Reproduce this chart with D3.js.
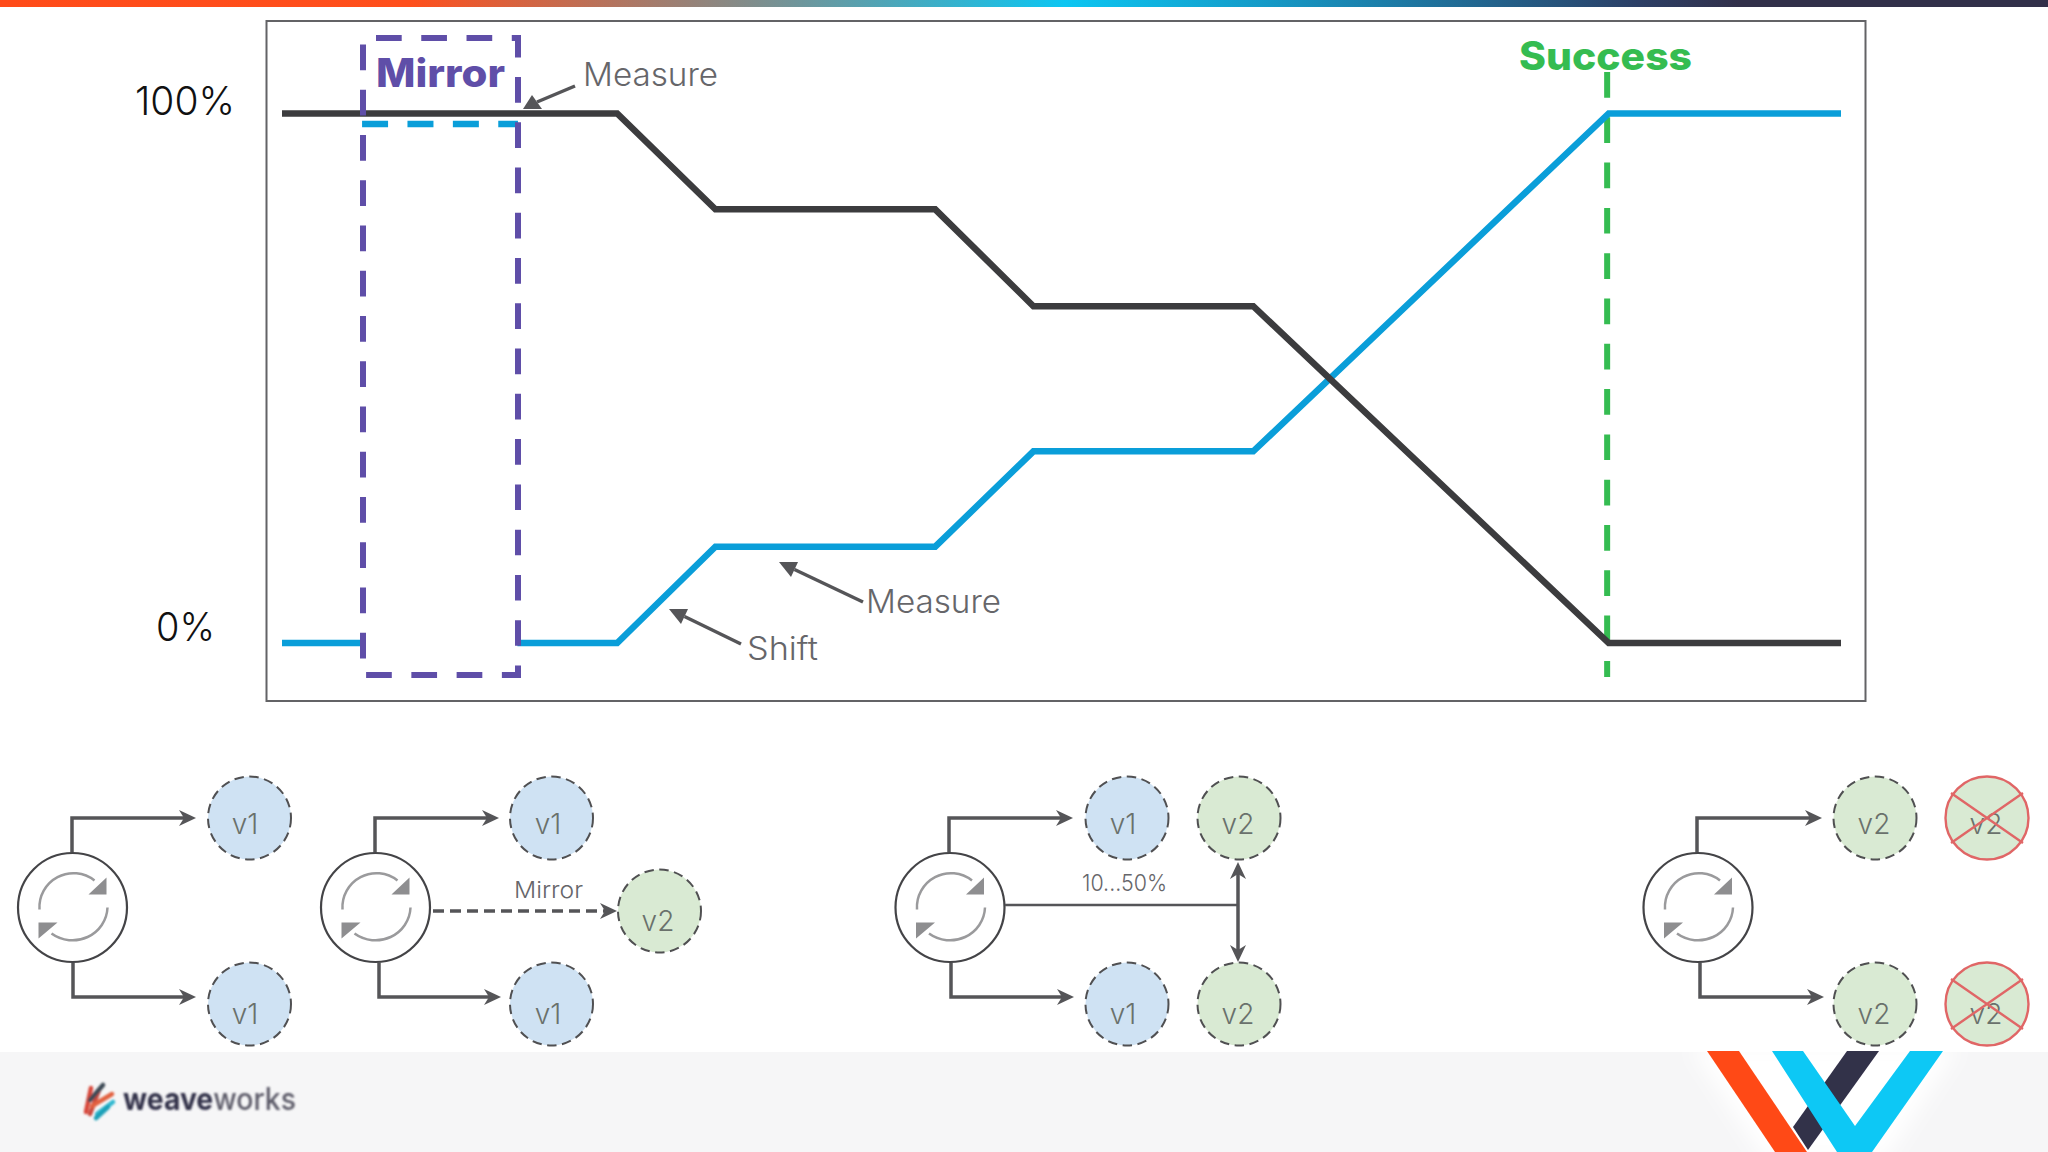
<!DOCTYPE html>
<html>
<head>
<meta charset="utf-8">
<script src="https://cdnjs.cloudflare.com/ajax/libs/d3/7.8.5/d3.min.js"></script>
<style>
html,body{margin:0;padding:0;background:#fff;overflow:hidden}
svg{display:block}
text{font-family:Inter,"Open Sans",sans-serif}
</style>
</head>
<body>
<script>
// ---- chart data (traffic share in percent along a rollout timeline) ----
const timeline      = [0, 5.1, 10, 15.1, 21.5, 27.8, 41.9, 48.2, 62.3, 85.1, 100];
const primaryShare  = [100, 100, 100, 100, 100, 81.9, 81.9, 63.6, 63.6, 0, 0];
const canaryShare   = [0, 0, null, 0, 0, 18.2, 18.2, 36.2, 36.2, 100, 100];
const mirrorRange   = [5.2, 15.2];
const mirrorShare   = [98, 98];
const successAt     = 85;
const axisTicks     = [0, 100];
const axisLabels    = ["0%", "100%"];

// ---- colours ----
const cPrimary="#3c3c3e", cCanary="#0a9ed9", cMirror="#5f4ea8", cSuccess="#35bc51",
      cGrey="#555558", cText="#66666a", cV1="#cfe2f3", cV2="#d9ead3", cRed="#e06666";

const W=2048,H=1152;
const svg=d3.select("body").append("svg").attr("width",W).attr("height",H).attr("viewBox",[0,0,W,H]);
const defs=svg.append("defs");

const x=d3.scaleLinear().domain([0,100]).range([282,1841]);
const y=d3.scaleLinear().domain([0,100]).range([643,113.5]);

// top gradient bar
const g=defs.append("linearGradient").attr("id","bar");
[[0,"#ff4b19"],[.2,"#ff4f1c"],[.52,"#0cc6f2"],[.62,"#1599c6"],[.8,"#2c3f66"],[.85,"#32304a"],[1,"#32304a"]]
  .forEach(d=>g.append("stop").attr("offset",d[0]).attr("stop-color",d[1]));
defs.append("filter").attr("id","soft").attr("x","-20%").attr("y","-20%").attr("width","140%").attr("height","140%")
  .append("feGaussianBlur").attr("stdDeviation",0.6);
defs.append("filter").attr("id","soft2").attr("x","-20%").attr("y","-20%").attr("width","140%").attr("height","140%")
  .append("feGaussianBlur").attr("stdDeviation",1);
defs.append("filter").attr("id","halo").attr("x","-20%").attr("y","-20%").attr("width","140%").attr("height","140%")
  .append("feGaussianBlur").attr("stdDeviation",10);
svg.append("rect").attr("width",W).attr("height",7).attr("fill","url(#bar)");

// footer
svg.append("rect").attr("y",1052).attr("width",W).attr("height",100).attr("fill","#f6f6f7");
const poly=(pts,fill,parent=svg)=>parent.append("polygon").attr("points",pts.map(p=>p.join(",")).join(" ")).attr("fill",fill);
poly([[1690,1046],[1960,1046],[1885,1160],[1765,1160]],"#fff").attr("filter","url(#halo)");

// frame
svg.append("rect").attr("x",266.5).attr("y",21).attr("width",1599).attr("height",680)
  .attr("fill","#fff").attr("stroke","#636366").attr("stroke-width",2);

// y axis tick labels
const axis=d3.axisLeft(y).tickValues(axisTicks).tickSize(0).tickFormat((d,i)=>axisLabels[i]);
const ax=svg.append("g").attr("transform","translate(235,0)").call(axis);
ax.select(".domain").remove();
ax.selectAll("text").attr("dy",null).attr("x",0).attr("dominant-baseline","auto")
  .style("font-family","Inter").style("font-size","39px").style("font-weight",300).attr("fill","#111")
  .each(function(d){
    const s=d3.select(this);
    if(d===100){s.attr("dy",0.5).attr("textLength",100).attr("lengthAdjust","spacingAndGlyphs");}
    else{s.attr("dy",-3).attr("x",-20).attr("textLength",59).attr("lengthAdjust","spacingAndGlyphs");}
  });

const line=d3.line().defined(d=>d[1]!==null).x(d=>x(d[0])).y(d=>y(d[1]));
const series=vals=>timeline.map((t,i)=>[t,vals[i]]);

// success marker
svg.append("line").attr("x1",x(successAt)).attr("x2",x(successAt)).attr("y1",72).attr("y2",677)
  .attr("stroke",cSuccess).attr("stroke-width",6).attr("stroke-dasharray","25.7 19.6");

// series
svg.append("path").attr("d",line(series(canaryShare))).attr("fill","none").attr("stroke",cCanary).attr("stroke-width",6.5);
svg.append("path").attr("d",line(series(primaryShare))).attr("fill","none").attr("stroke",cPrimary).attr("stroke-width",6.5);
svg.append("path").attr("d",line(mirrorRange.map((t,i)=>[t,mirrorShare[i]]))).attr("fill","none").attr("stroke",cCanary)
  .attr("stroke-width",6.5).attr("stroke-dasharray","26 19.4").attr("transform","translate(-1,0)");

// mirror box: clockwise dashed path
svg.append("path").attr("d","M376,38H518V675H363V38H376").attr("fill","none").attr("stroke",cMirror)
  .attr("stroke-width",6).attr("stroke-dasharray","25.7 19.56");

// labels
function label(t,xs,base,size,weight,color,len,parent=svg){
  return parent.append("text").attr("x",xs).attr("y",base).text(t).attr("fill",color)
    .style("font-size",size+"px").style("font-weight",weight)
    .attr("textLength",len).attr("lengthAdjust","spacingAndGlyphs");
}
label("Mirror",376,87,39,800,cMirror,129);
label("Success",1519,70,39,800,cSuccess,173);
label("Measure",583,86,32,300,cText,135);
label("Measure",866,613,32,300,cText,135);
label("Shift",747,660,32,300,cText,71);

// callout arrows
function callout(from,tip,a,b){
  svg.append("line").attr("x1",from[0]).attr("y1",from[1]).attr("x2",(a[0]+b[0])/2).attr("y2",(a[1]+b[1])/2)
    .attr("stroke",cGrey).attr("stroke-width",3.5);
  poly([tip,a,b],cGrey);
}
callout([575,86],[523,109],[532,95],[542,109]);
callout([863,602],[779,562],[798,562],[791,577]);
callout([741,644],[669,609],[688,609],[681,624]);

// ---- deployment diagrams ----
const RN=42, RB=55, CY=907.5, TOP=818, BOT=1004, ARM_TOP=818, ARM_BOT=997;
function head(tx,ty,dir){ // dir: r,u,d
  const L=17,H2=8,N=12;
  const m={r:(a,b)=>[tx-a,ty+b],u:(a,b)=>[tx+b,ty+a],d:(a,b)=>[tx+b,ty-a]}[dir];
  poly([m(0,0),m(L,-H2),m(N,0),m(L,H2)],cGrey);
}
function balancer(cx,xT,xB,tipT,tipB){
  svg.append("path").attr("d",`M${xT},${CY-RB}V${ARM_TOP}H${tipT-10}M${xB},${CY+RB}V${ARM_BOT}H${tipB-10}`)
    .attr("fill","none").attr("stroke",cGrey).attr("stroke-width",3.5);
  head(tipT,ARM_TOP,"r");head(tipB,ARM_BOT,"r");
  svg.append("circle").attr("cx",cx).attr("cy",CY).attr("r",RB-0.5).attr("fill","#fff").attr("stroke","#444447").attr("stroke-width",2.2);
  const ic=svg.append("g").attr("transform",`translate(${cx},${CY})`);
  ic.append("path").attr("d","M-33,2A34,34 0 0 1 22,-27M35,0A35,34 0 0 1 -21,26").attr("fill","none").attr("stroke","#9a9a9c").attr("stroke-width",2.5);
  poly([[34,-30],[34,-13],[16,-13]],"#8e8e90",ic);
  poly([[-34,15],[-15,15],[-34,31]],"#8e8e90",ic);
}
function node(cx,cy,name,tx,base,crossed){
  svg.append("circle").attr("cx",cx).attr("cy",cy).attr("r",RN-0.5).attr("fill",name==="v1"?cV1:cV2)
    .attr("stroke",crossed?cRed:"#505052").attr("stroke-width",crossed?2.4:2).attr("stroke-dasharray",crossed?null:"9.5 5.5");
  svg.append("text").attr("x",tx).attr("y",base).attr("text-anchor","middle").text(name)
    .attr("fill","#6a716c").style("font-size","28px").style("font-weight",300);
  if(crossed){
    svg.append("path").attr("d",`M${cx-36},${cy-25}L${cx+36},${cy+25}M${cx-36},${cy+25}L${cx+36},${cy-25}`)
      .attr("stroke",cRed).attr("stroke-width",2.4).attr("fill","none");
  }
}
const BT=834,BB=1024;
// stage 1
balancer(72.5,72,73,196,196);
node(249.5,TOP,"v1",245,BT);node(249.5,BOT,"v1",245,BB);
// stage 2
balancer(375.5,375,379,499,501);
node(551.5,TOP,"v1",548,BT);node(551.5,BOT,"v1",548,BB);
svg.append("line").attr("x1",433).attr("x2",606).attr("y1",911).attr("y2",911).attr("stroke",cGrey).attr("stroke-width",3.5).attr("stroke-dasharray","11 6");
head(617,911,"r");
node(659.5,911,"v2",658,931);
label("Mirror",514,898,23,300,cText,69);
// stage 3
balancer(950,949,951,1073,1074);
node(1127,TOP,"v1",1123,BT);node(1127,BOT,"v1",1123,BB);
node(1239,TOP,"v2",1238,BT);node(1239,BOT,"v2",1238,BB);
svg.append("line").attr("x1",1005).attr("x2",1238).attr("y1",905).attr("y2",905).attr("stroke",cGrey).attr("stroke-width",2.5);
svg.append("line").attr("x1",1238).attr("x2",1238).attr("y1",872).attr("y2",952).attr("stroke",cGrey).attr("stroke-width",3.5);
head(1238,862,"u");head(1238,962,"d");
label("10...50%",1082,891,23,300,cText,85);
// stage 4
balancer(1698,1697,1700,1822,1824);
node(1875,TOP,"v2",1874,BT);node(1875,BOT,"v2",1874,BB);
node(1987,TOP,"v2",1986,BT,true);node(1987,BOT,"v2",1986,BB,true);

// weaveworks brand
const lg=svg.append("g").attr("filter","url(#soft)");
poly([[1707,1051],[1739,1051],[1807,1152],[1775,1152]],"#ff4a15",lg);
poly([[1847,1051],[1879,1051],[1808,1150],[1793,1127]],"#32304a",lg);
poly([[1772,1051],[1803,1051],[1855,1126],[1910,1051],[1943,1051],[1872,1152],[1837,1152]],"#0cc8f5",lg);

const sm=svg.append("g").attr("filter","url(#soft2)");
const stripe=(x1,y1,x2,y2,c)=>sm.append("line").attr("x1",x1).attr("y1",y1).attr("x2",x2).attr("y2",y2).attr("stroke",c).attr("stroke-width",4.5).attr("stroke-linecap","round");
stripe(91,1088,86,1112,"#d8473a");
stripe(99,1090,90,1114,"#c84a3e");
stripe(112,1094,92,1106,"#e2603f");
stripe(103,1085,90,1100,"#3c4a55");
stripe(113,1102,97,1114,"#2eb8d0");
stripe(108,1107,96,1118,"#1fa0b8");
const wt=sm.append("text").attr("x",123).attr("y",1110).style("font-size","31px").style("font-family","Inter").attr("textLength",173).attr("lengthAdjust","spacingAndGlyphs");
wt.append("tspan").text("weave").attr("fill","#32304a").style("font-weight",700);
wt.append("tspan").text("works").attr("fill","#5b5a68").style("font-weight",500);
</script>
</body>
</html>
